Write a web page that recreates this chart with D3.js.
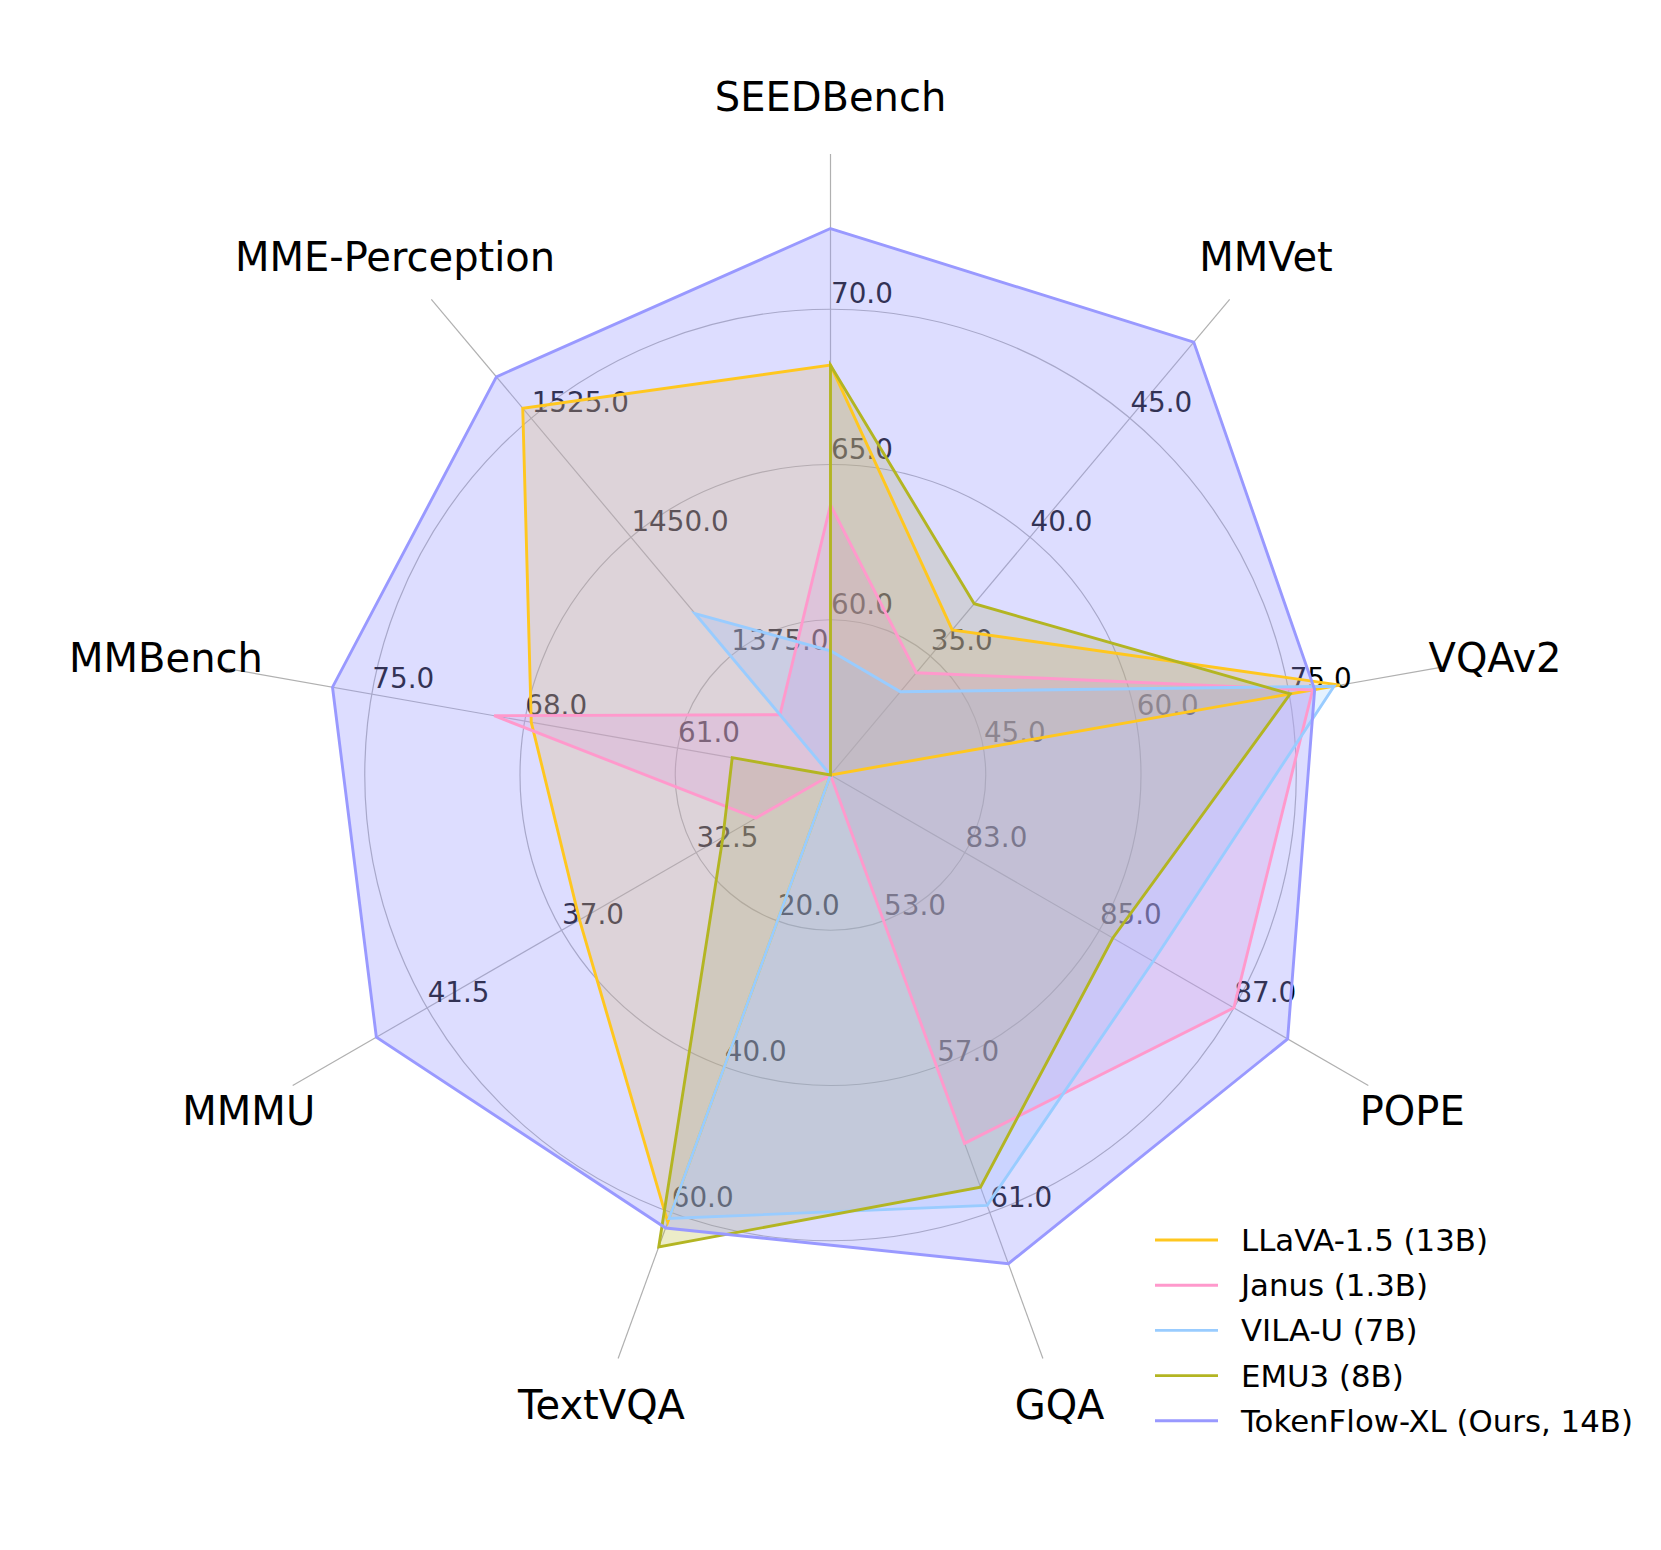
<!DOCTYPE html>
<html><head><meta charset="utf-8">
<script src="https://cdn.jsdelivr.net/npm/d3@7"></script>
<style>body{margin:0;background:#fff}svg{display:block}</style>
</head><body>
<svg id="chart" width="1661" height="1550"></svg>
<script>
const categories = ["SEEDBench","MMVet","VQAv2","POPE","GQA","TextVQA","MMMU","MMBench","MME-Perception"];
const axisMin = [55, 30, 30, 81, 49, 0, 28, 54, 1300];
const axisMax = [75, 50, 90, 89, 65, 80, 46, 82, 1600];
const tickLabels = [
  ["60.0","65.0","70.0"],["35.0","40.0","45.0"],["45.0","60.0","75.0"],
  ["83.0","85.0","87.0"],["53.0","57.0","61.0"],["20.0","40.0","60.0"],
  ["32.5","37.0","41.5"],["61.0","68.0","75.0"],["1375.0","1450.0","1525.0"]
];
const seriesNames = ["LLaVA-1.5 (13B)","Janus (1.3B)","VILA-U (7B)","EMU3 (8B)","TokenFlow-XL (Ours, 14B)"];
const llava   = [68.2, 36.1, 80.0, null, null, 61.3, 36.4, 67.7, 1531.3];
const janus   = [63.7, 34.3, 77.3, 87.0, 59.1, null, 30.5, 69.4, 1338.0];
const vilau   = [59.0, 33.5, 79.4, 85.8, 60.8, 60.8, null, null, 1401.8];
const emu3    = [68.2, 37.2, 75.1, 85.2, 60.3, 64.7, 31.6, 58.5, null];
const tokenflow = [72.6, 48.2, 77.5, 87.8, 62.4, 62.1, 43.2, 76.8, 1551.1];
const seriesValues = [llava, janus, vilau, emu3, tokenflow];
const colors = ["#ffc71f","#ff99cc","#99ccff","#b3b522","#9999ff"];
const fillAlpha = [0.25,0.25,0.25,0.25,0.33];

const cx = 830.5, cy = 775, R = 621;
const svg = d3.select("#chart");
const g = svg.append("g").attr("transform",`translate(${cx},${cy})`);
const n = categories.length;
const angle = d3.scaleLinear().domain([0,n]).range([0,2*Math.PI]);
const rScales = categories.map((c,i)=>d3.scaleLinear().domain([axisMin[i],axisMax[i]]).range([0,R]));
const font = "DejaVu Sans, sans-serif";
const px = (a,r)=>[r*Math.sin(a), -r*Math.cos(a)];

// grid circles
[0.25,0.5,0.75].forEach(f=>{
  g.append("circle").attr("r",R*f).attr("fill","none").attr("stroke","#b0b0b0").attr("stroke-width",1.2);
});
// axis lines
categories.forEach((c,i)=>{
  const [x,y]=px(angle(i),R);
  g.append("line").attr("x1",0).attr("y1",0).attr("x2",x).attr("y2",y).attr("stroke","#b0b0b0").attr("stroke-width",1.2);
});
// tick labels (under fills)
categories.forEach((c,i)=>{
  tickLabels[i].forEach((t,k)=>{
    const v = axisMin[i] + (axisMax[i]-axisMin[i])*(k+1)/4;
    const [x,y]=px(angle(i), rScales[i](v));
    g.append("text").attr("x",x+0.5).attr("y",y-6).attr("font-family",font).attr("font-size",27.8)
      .attr("fill","#000").text(t);
  });
});

const radial = d3.lineRadial()
  .angle((d,i)=>angle(i))
  .radius((d,i)=> d==null ? 0 : rScales[i](d))
  .curve(d3.curveLinearClosed);

// fills
seriesValues.forEach((s,j)=>{
  g.append("path").attr("d",radial(s)).attr("fill",colors[j]).attr("fill-opacity",fillAlpha[j]).attr("stroke","none");
});
// lines
seriesValues.forEach((s,j)=>{
  g.append("path").attr("d",radial(s)).attr("fill","none").attr("stroke",colors[j]).attr("stroke-width",2.9).attr("stroke-linejoin","miter");
});

// category labels
categories.forEach((c,i)=>{
  const a = angle(i);
  const rl = 674 + 4.5*Math.cos(a);
  const [x,y]=px(a,rl);
  g.append("text").attr("x",x).attr("y",y+14.5).attr("text-anchor","middle").attr("font-family",font)
    .attr("font-size",40).attr("fill","#000").text(c);
});

// legend
const lg = svg.append("g");
seriesNames.forEach((name,j)=>{
  const y = 1240 + j*45.2;
  lg.append("line").attr("x1",1155).attr("x2",1218).attr("y1",y).attr("y2",y).attr("stroke",colors[j]).attr("stroke-width",2.9);
  lg.append("text").attr("x",1241).attr("y",y+11).attr("font-family",font).attr("font-size",30.8).attr("fill","#000").text(name);
});
</script>
</body></html>
